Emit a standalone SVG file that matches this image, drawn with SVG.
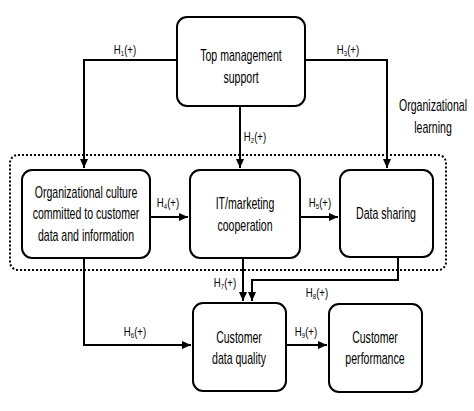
<svg xmlns="http://www.w3.org/2000/svg" width="474" height="411" viewBox="0 0 474 411">
<defs>
<marker id="arr" markerWidth="10" markerHeight="10" refX="9" refY="5" orient="auto" markerUnits="userSpaceOnUse">
<path d="M0,1 L9,5 L0,9 Z" fill="#000"/>
</marker>
<style>
.box{fill:#fff;stroke:#000;stroke-width:2}
.t{font-family:"Liberation Sans",Arial,sans-serif;font-size:16px;text-anchor:middle;fill:#000}
.l{font-family:"Liberation Sans",Arial,sans-serif;font-size:12px;text-anchor:middle;fill:#000}
.s{font-size:7.5px}
.c{fill:none;stroke:#000;stroke-width:2}
</style>
</defs>
<rect x="10" y="155" width="436" height="115" rx="8" fill="none" stroke="#000" stroke-width="2" stroke-dasharray="2,2"/>
<g id="connectors">
<path class="c" d="M177,60 H84 V168" marker-end="url(#arr)"/>
<path class="c" d="M305,60 H387 V168" marker-end="url(#arr)"/>
<path class="c" d="M240,106 V168" marker-end="url(#arr)"/>
<path class="c" d="M150,217 H188" marker-end="url(#arr)"/>
<path class="c" d="M300,217 H338" marker-end="url(#arr)"/>
<path class="c" d="M243,258 V301" marker-end="url(#arr)"/>
<path class="c" d="M398,257 V280 H252 V301" marker-end="url(#arr)"/>
<path class="c" d="M84,258 V345 H191" marker-end="url(#arr)"/>
<path class="c" d="M286,345 H327" marker-end="url(#arr)"/>
<text class="l" transform="translate(125,54) scale(0.8,1)">H<tspan class="s" dy="2">1</tspan><tspan dy="-2">(+)</tspan></text>
<text class="l" transform="translate(348,54) scale(0.8,1)">H<tspan class="s" dy="2">3</tspan><tspan dy="-2">(+)</tspan></text>
<text class="l" transform="translate(255,141) scale(0.8,1)">H<tspan class="s" dy="2">2</tspan><tspan dy="-2">(+)</tspan></text>
<text class="l" transform="translate(168,207) scale(0.8,1)">H<tspan class="s" dy="2">4</tspan><tspan dy="-2">(+)</tspan></text>
<text class="l" transform="translate(320,207) scale(0.8,1)">H<tspan class="s" dy="2">5</tspan><tspan dy="-2">(+)</tspan></text>
<text class="l" transform="translate(225,287) scale(0.8,1)">H<tspan class="s" dy="2">7</tspan><tspan dy="-2">(+)</tspan></text>
<text class="l" transform="translate(317,297) scale(0.8,1)">H<tspan class="s" dy="2">8</tspan><tspan dy="-2">(+)</tspan></text>
<text class="l" transform="translate(135,336) scale(0.8,1)">H<tspan class="s" dy="2">6</tspan><tspan dy="-2">(+)</tspan></text>
<text class="l" transform="translate(306,336) scale(0.8,1)">H<tspan class="s" dy="2">9</tspan><tspan dy="-2">(+)</tspan></text>
</g>
<g id="top">
<rect class="box" x="177" y="17" width="128" height="89" rx="10"/>
<text class="t" transform="translate(241,61) scale(0.66,1)">Top management</text>
<text class="t" transform="translate(241,83) scale(0.66,1)">support</text>
</g>
<g id="culture">
<rect class="box" x="22" y="170" width="128" height="88" rx="10"/>
<text class="t" transform="translate(86,198) scale(0.66,1)">Organizational culture</text>
<text class="t" transform="translate(86,219) scale(0.66,1)">committed to customer</text>
<text class="t" transform="translate(86,241) scale(0.66,1)">data and information</text>
</g>
<g id="itmkt">
<rect class="box" x="190" y="170" width="110" height="88" rx="10"/>
<text class="t" transform="translate(245,209) scale(0.66,1)">IT/marketing</text>
<text class="t" transform="translate(245,231) scale(0.66,1)">cooperation</text>
</g>
<g id="sharing">
<rect class="box" x="340" y="170" width="93" height="87" rx="10"/>
<text class="t" transform="translate(386,219) scale(0.66,1)">Data sharing</text>
</g>
<g id="quality">
<rect class="box" x="193" y="303" width="93" height="88" rx="10"/>
<text class="t" transform="translate(239,343) scale(0.66,1)">Customer</text>
<text class="t" transform="translate(239,364) scale(0.66,1)">data quality</text>
</g>
<g id="performance">
<rect class="box" x="329" y="304" width="93" height="88" rx="10"/>
<text class="t" transform="translate(375,343) scale(0.66,1)">Customer</text>
<text class="t" transform="translate(375,364) scale(0.66,1)">performance</text>
</g>
<g id="learning">
<text class="t" transform="translate(433,111) scale(0.66,1)">Organizational</text>
<text class="t" transform="translate(433,133) scale(0.66,1)">learning</text>
</g>
</svg>
